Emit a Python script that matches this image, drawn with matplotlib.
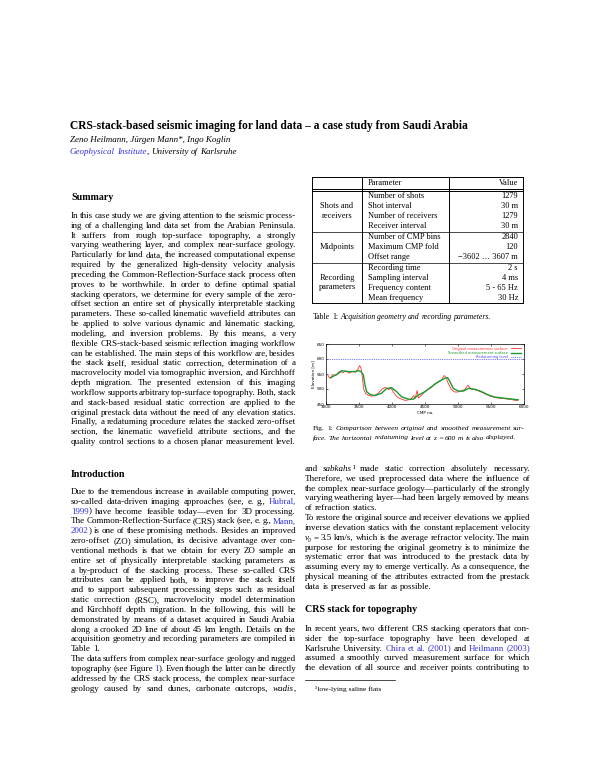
import matplotlib
matplotlib.use('Agg')
import matplotlib.pyplot as plt
from matplotlib.lines import Line2D

# ---- chart data ----
cmp_smooth = [3076, 3187, 3237, 3338, 3439, 3490, 3530, 3566, 3591, 3616, 3667, 3742,
              3843, 3919, 3995, 4071, 4146, 4247, 4323, 4399, 4500, 4601, 4702, 4803,
              4843, 4879, 4929, 5005, 5081, 5157, 5258, 5359, 5460, 5561, 5712, 5914]
elev_smooth = [538, 552, 561, 558, 558, 561, 558, 547, 513, 491, 482, 478,
               486, 502, 504, 491, 474, 466, 466, 480, 491, 508, 524, 536,
               538, 524, 502, 493, 493, 502, 499, 491, 480, 473, 469, 464]
cmp_orig = [3030, 3060, 3100, 3150, 3200, 3260, 3300, 3350, 3400, 3450, 3480, 3510,
            3530, 3550, 3570, 3600, 3650, 3700, 3750, 3800, 3850, 3900, 3950, 3980,
            4020, 4060, 4100, 4200, 4280, 4330, 4350, 4380, 4400, 4450, 4500, 4550,
            4600, 4650, 4700, 4750, 4790, 4820, 4850, 4900, 4950, 5000, 5100, 5150,
            5200, 5300, 5400, 5500, 5600, 5700, 5800, 5900]
elev_orig = [545, 535, 548, 545, 558, 555, 560, 553, 558, 556, 565, 578,
             570, 540, 500, 485, 478, 476, 480, 488, 500, 505, 498, 505,
             490, 478, 470, 462, 465, 478, 468, 495, 470, 480, 492, 500,
             505, 518, 522, 530, 545, 538, 520, 498, 490, 490, 498, 512,
             500, 495, 485, 475, 470, 468, 465, 461]
redatum_level = 600
x_ticks = [3000, 3500, 4000, 4500, 5000, 5500, 6000]
y_ticks = [450, 500, 550, 600, 650]

# ---- table data ----
groups = ["Shots and\nreceivers", "Midpoints", "Recording\nparameters"]
params = [["Number of shots", "Shot interval", "Number of receivers", "Receiver interval"],
          ["Number of CMP bins", "Maximum CMP fold", "Offset range"],
          ["Recording time", "Sampling interval", "Frequency content", "Mean frequency"]]
values = [["1279", "30 m", "1279", "30 m"],
          ["2840", "120", "\u22123602 \u2026 3607 m"],
          ["2 s", "4 ms", "5 - 65 Hz", "30 Hz"]]

W, H = 600, 776
fig = plt.figure(figsize=(6, 7.76), dpi=100)
r = fig.canvas.get_renderer()
SERIF = 'Liberation Serif'
FS = 6.5
TFS = 6.0
CFS = 5.3
LS = 9.83
BLUE = '#3333dd'


def X(px):
    return px / W


def Y(py):
    return 1 - py / H


def draw_line(x0, y, width, words, justify=True, size=FS):
    # words: tokens; '|' joins segments without space; '@' blue, '~' italic
    items = []
    for w in words:
        segs = []
        for s in w.split('|'):
            color, style = 'black', 'normal'
            while s[:1] in ('@', '~'):
                if s[0] == '@':
                    color = BLUE
                else:
                    style = 'italic'
                s = s[1:]
            t = fig.text(X(x0), Y(y), s, fontsize=size, family=SERIF, color=color,
                         style=style, va='center', ha='left')
            segs.append((t, t.get_window_extent(r).width))
        items.append(segs)
    widths = [sum(s[1] for s in it) for it in items]
    space = size * 100 / 72 * 0.25
    if justify and len(items) > 1:
        gap = (width - sum(widths)) / (len(items) - 1)
    else:
        gap = space
    x = x0
    for it, wd in zip(items, widths):
        xx = x
        for t, sw in it:
            t.set_x(X(xx))
            xx += sw
        x += wd + gap


def paragraph(x0, y0, width, lines, last_justified=False):
    for i, ln in enumerate(lines):
        just = last_justified or i < len(lines) - 1
        draw_line(x0, y0 + i * LS, width, ln.split(), just)
    return y0 + len(lines) * LS


# ---- header ----
fig.text(X(70), Y(126), "CRS-stack-based seismic imaging for land data \u2013 a case study from Saudi Arabia",
         fontsize=8.3, family=SERIF, weight='bold', va='center')
fig.text(X(70), Y(140), "Zeno Heilmann, J\u00fcrgen Mann*, Ingo Koglin",
         fontsize=6.5, family=SERIF, style='italic', va='center')
draw_line(70, 152, 0, ["@~Geophysical", "@~Institute|~,", "~University", "~of", "~Karlsruhe"],
          justify=False, size=6.5)

LX, LW = 71, 225
RX, RW = 305, 225

fig.text(X(LX), Y(197), "Summary", fontsize=7.2, family=SERIF, weight='bold', va='center')
summary = [
    "In this case study we are giving attention to the seismic process-",
    "ing of a challenging land data set from the Arabian Peninsula.",
    "It suffers from rough top-surface topography, a strongly",
    "varying weathering layer, and complex near-surface geology.",
    "Particularly for land data, the increased computational expense",
    "required by the generalized high-density velocity analysis",
    "preceding the Common-Reflection-Surface stack process often",
    "proves to be worthwhile. In order to define optimal spatial",
    "stacking operators, we determine for every sample of the zero-",
    "offset section an entire set of physically interpretable stacking",
    "parameters. These so-called kinematic wavefield attributes can",
    "be applied to solve various dynamic and kinematic stacking,",
    "modeling, and inversion problems. By this means, a very",
    "flexible CRS-stack-based seismic reflection imaging workflow",
    "can be established. The main steps of this workflow are, besides",
    "the stack itself, residual static correction, determination of a",
    "macrovelocity model via tomographic inversion, and Kirchhoff",
    "depth migration. The presented extension of this imaging",
    "workflow supports arbitrary top-surface topography. Both, stack",
    "and stack-based residual static correction are applied to the",
    "original prestack data without the need of any elevation statics.",
    "Finally, a redatuming procedure relates the stacked zero-offset",
    "section, the kinematic wavefield attribute sections, and the",
    "quality control sections to a chosen planar measurement level.",
]
paragraph(LX, 216, LW, summary)

fig.text(X(LX), Y(474), "Introduction", fontsize=7.2, family=SERIF, weight='bold', va='center')
intro1 = [
    "Due to the tremendous increase in available computing power,",
    "so-called data-driven imaging approaches (see, e. g., @Hubral,",
    "@1999|) have become feasible today\u2014even for 3D processing.",
    "The Common-Reflection-Surface (CRS) stack (see, e. g., @Mann,",
    "@2002|) is one of these promising methods. Besides an improved",
    "zero-offset (ZO) simulation, its decisive advantage over con-",
    "ventional methods is that we obtain for every ZO sample an",
    "entire set of physically interpretable stacking parameters as",
    "a by-product of the stacking process. These so-called CRS",
    "attributes can be applied both, to improve the stack itself",
    "and to support subsequent processing steps such as residual",
    "static correction (RSC), macrovelocity model determination",
    "and Kirchhoff depth migration. In the following, this will be",
    "demonstrated by means of a dataset acquired in Saudi Arabia",
    "along a crooked 2D line of about 45\u2009km length. Details on the",
    "acquisition geometry and recording parameters are compiled in",
    "Table 1.",
]
y = paragraph(LX, 492, LW, intro1)
intro2 = [
    "The data suffers from complex near-surface geology and rugged",
    "topography (see Figure @1|). Even though the latter can be directly",
    "addressed by the CRS stack process, the complex near-surface",
    "geology caused by sand dunes, carbonate outcrops, ~wadis|,",
]
paragraph(LX, y, LW, intro2, last_justified=True)

right1 = [
    "and ~sabkahs|\u00b9 made static correction absolutely necessary.",
    "Therefore, we used preprocessed data where the influence of",
    "the complex near-surface geology\u2014particularly of the strongly",
    "varying weathering layer\u2014had been largely removed by means",
    "of refraction statics.",
]
y = paragraph(RX, 469, RW, right1)
right2 = [
    "To restore the original source and receiver elevations we applied",
    "inverse elevation statics with the constant replacement velocity",
    "~v\u2080 = 3.5\u2009km/s, which is the average refractor velocity. The main",
    "purpose for restoring the original geometry is to minimize the",
    "systematic error that was introduced to the prestack data by",
    "assuming every ray to emerge vertically. As a consequence, the",
    "physical meaning of the attributes extracted from the prestack",
    "data is preserved as far as possible.",
]
paragraph(RX, y, RW, right2)
fig.text(X(RX), Y(610), "CRS stack for topography", fontsize=7.2, family=SERIF, weight='bold', va='center')
right3 = [
    "In recent years, two different CRS stacking operators that con-",
    "sider the top-surface topography have been developed at",
    "Karlsruhe University. @Chira @et @al. @(2001) and @Heilmann @(2003)",
    "assumed a smoothly curved measurement surface for which",
    "the elevation of all source and receiver points contributing to",
]
paragraph(RX, 629, RW, right3, last_justified=True)
fig.add_artist(Line2D([X(305), X(395)], [Y(680), Y(680)], color='black', lw=0.5))
fig.text(X(315), Y(689), "\u00b9low-lying saline flats", fontsize=5.4, family=SERIF, va='center')

# ---- table ----
TL, C1, C2, TR = 312, 362, 449, 523
top, hdr, bot = 177, 188.5, 303
seps = [231.5, 262.5]
kw = dict(color='black', lw=0.7)
for yy in (top, hdr, hdr + 2, bot):
    fig.add_artist(Line2D([X(TL), X(TR)], [Y(yy), Y(yy)], **kw))
for yy in seps:
    fig.add_artist(Line2D([X(TL), X(TR)], [Y(yy), Y(yy)], color='black', lw=0.5))
for xx in (TL, C1, C2, TR):
    fig.add_artist(Line2D([X(xx), X(xx)], [Y(top), Y(bot)], **kw))
tk = dict(fontsize=TFS, family=SERIF, va='center')
fig.text(X(C1 + 6), Y(183), "Parameter", **tk)
fig.text(X(TR - 5), Y(183), "Value", ha='right', **tk)
row_y = 196
group_bounds = [190.5] + seps + [bot]
for g, (name, ps, vs) in enumerate(zip(groups, params, values)):
    mid = (group_bounds[g] + group_bounds[g + 1]) / 2
    fig.text(X((TL + C1) / 2), Y(mid), name, ha='center', linespacing=1.25, **tk)
    for p, v in zip(ps, vs):
        fig.text(X(C1 + 6), Y(row_y), p, **tk)
        fig.text(X(TR - 5), Y(row_y), v, ha='right', **tk)
        row_y += 9.9
    row_y += 1.5
draw_line(313, 317, 0, ["Table", "1:", "~Acquisition", "~geometry", "~and", "~recording", "~parameters."],
          justify=False, size=CFS + 0.3)

# ---- chart ----
ax = fig.add_axes([X(326), Y(404), (524 - 326) / W, (404 - 344) / H])
ax.plot(cmp_orig, elev_orig, color='#ff3030', lw=0.6, label='Original measurement surface')
ax.plot(cmp_smooth, elev_smooth, color='#1a9a30', lw=1.0, label='Smoothed measurement surface')
ax.axhline(redatum_level, color='#4a4aff', lw=0.6, ls=(0, (1, 1.2)), label='Redatuming level')
ax.set_xlim(3000, 6000)
ax.set_ylim(450, 650)
ax.set_xticks(x_ticks)
ax.set_yticks(y_ticks)
ax.tick_params(labelsize=3, length=1.5, width=0.4, pad=1, direction='in', top=True, right=True)
for s in ax.spines.values():
    s.set_linewidth(0.5)
ax.set_xlabel('CMP no.', fontsize=3, labelpad=1)
ax.set_ylabel('Elevation [m]', fontsize=3, labelpad=1)
leg = ax.legend(loc='upper right', fontsize=2.6, frameon=False, handlelength=3,
                borderpad=0.2, labelspacing=0.1, markerfirst=False)
for t, c in zip(leg.get_texts(), ['#ff3030', '#1a9a30', '#4a4aff']):
    t.set_color(c)

draw_line(313, 428, 212, ["Fig.", "1:", "~Comparison", "~between", "~original", "~and", "~smoothed",
                          "~measurement", "~sur-"], size=CFS)
draw_line(313, 438, 0, ["~face.", "~The", "~horizontal", "~redatuming", "~level", "~at", "~z", "~=",
                        "~600", "~m", "~is", "~also", "~displayed."], justify=False, size=CFS)

fig.savefig('out.png', dpi=100)
